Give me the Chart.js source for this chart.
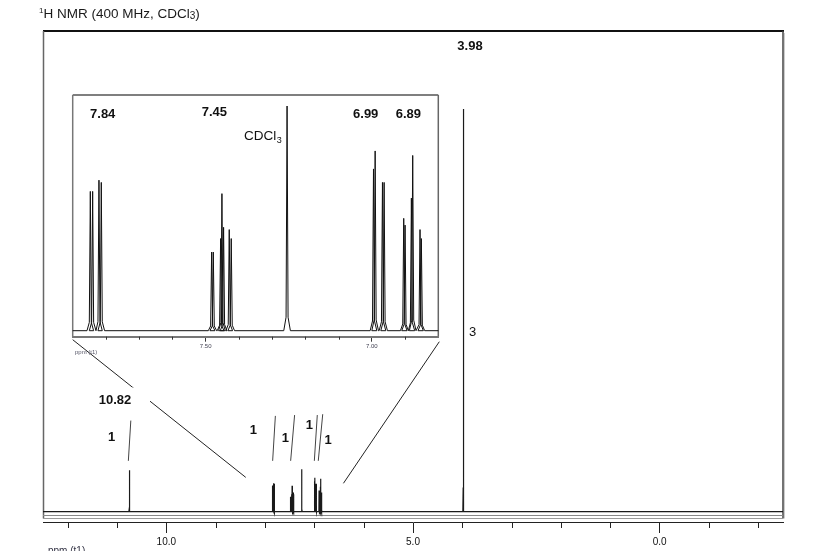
<!DOCTYPE html>
<html>
<head>
<meta charset="utf-8">
<title>1H NMR</title>
<script src="https://cdn.jsdelivr.net/npm/chart.js@4.4.1/dist/chart.umd.min.js"></script>
<style>
  body { margin: 0; background: #fff; }
  #wrap { position: relative; width: 836px; height: 551px; overflow: hidden; }
  #titulo { position: absolute; left: 39px; top: 6px; font: 13.5px Arial, "Liberation Sans", sans-serif; line-height: 16px; color: #1a1a1a; white-space: nowrap; }
  #titulo sup { font-size: 8px; vertical-align: 5px; line-height: 0; }
  #titulo sub { font-size: 10px; vertical-align: -1px; line-height: 0; }
  #mainChart { position: absolute; left: 0; top: 0; }
  #insetChart { position: absolute; left: 50px; top: 85px; }
</style>
</head>
<body>
<div id="wrap">
  <canvas id="mainChart" width="836" height="551"></canvas>
  <canvas id="insetChart" width="400" height="275"></canvas>
  <div id="titulo"><sup>1</sup>H NMR (400 MHz, CDCl<sub>3</sub>)</div>
</div>
<script>
Chart.defaults.font.family = "Arial, 'Liberation Sans', sans-serif";
Chart.defaults.color = '#111';

// Líneas del espectro: posición (ppm) e intensidad relativa (CDCl3 = 100)
const picosPpm = [10.75, 7.847, 7.840, 7.821, 7.814, 7.482, 7.477, 7.455, 7.451, 7.446, 7.429, 7.423,
                  7.255, 6.995, 6.990, 6.968, 6.963, 6.904, 6.900, 6.881, 6.877, 6.855, 6.851, 3.98];
const picosAltura = [98, 62, 62, 67, 66, 35, 35, 41, 61, 46, 45, 41,
                     100, 72, 80, 66, 66, 50, 47, 59, 78, 45, 41, 950];

// Curvas de integración (ppm inicio / fin, altura inicio / fin)
const integralDesde = [10.77, 7.845, 7.48, 7.00, 6.92];
const integralHasta = [10.72, 7.79, 7.40, 6.94, 6.83];
const integralBase = [120, 120, 120, 120, 120];
const integralTope = [215, 226, 228, 228, 230];

// Ejes
const ejePrincipalTicks = [12, 11, 10, 9, 8, 7, 6, 5, 4, 3, 2, 1, 0, -1, -2];
const ejePrincipalEtiquetas = [10, 5, 0];
const ejeZoomTicks = [7.8, 7.7, 7.6, 7.5, 7.4, 7.3, 7.2, 7.1, 7.0, 6.9];
const ejeZoomEtiquetas = [7.5, 7.0];

// forma de cada línea: punta estrecha y pie algo más ancho
const PUNTA = 0.003;
const PIE = 0.010;
const OFFSET_ZOOM = { x: 50, y: 85 };

function trazaEspectro() {
  const pts = [{ x: 13, y: 0 }];
  picosPpm.forEach((p, i) => {
    const h = picosAltura[i];
    pts.push({ x: p + PIE, y: 0 }, { x: p + PUNTA, y: h * 0.06 }, { x: p, y: h },
             { x: p - PUNTA, y: h * 0.06 }, { x: p - PIE, y: 0 });
  });
  pts.push({ x: -3, y: 0 });
  return pts;
}

function linea(ctx, x1, y1, x2, y2, color, ancho) {
  ctx.beginPath();
  ctx.strokeStyle = color;
  ctx.lineWidth = ancho;
  ctx.moveTo(x1, y1);
  ctx.lineTo(x2, y2);
  ctx.stroke();
}

function texto(ctx, t, x, y, font, align) {
  ctx.font = font;
  ctx.fillStyle = '#111';
  ctx.textAlign = align || 'center';
  ctx.textBaseline = 'middle';
  ctx.fillText(t, x, y);
}

// ---------- Gráfico ampliado (7.9 - 6.8 ppm) ----------
const marcoZoom = {
  id: 'marcoZoom',
  beforeDraw(chart) {
    const { ctx, chartArea: a } = chart;
    ctx.save();
    ctx.fillStyle = '#fff';
    ctx.fillRect(a.left, a.top, a.right - a.left, a.bottom - a.top);
    linea(ctx, a.left, a.top, a.right, a.top, '#555', 1.5);
    linea(ctx, a.left, a.top, a.left, a.bottom, '#777', 1.5);
    linea(ctx, a.right, a.top, a.right, a.bottom, '#666', 1.5);
    ctx.restore();
  },
  afterDraw(chart) {
    const { ctx, chartArea: a, scales } = chart;
    ctx.save();
    ejeZoomTicks.forEach(v => {
      if (ejeZoomEtiquetas.includes(v)) return;
      const px = Math.round(scales.x.getPixelForValue(v)) + 0.5;
      linea(ctx, px, a.bottom, px, a.bottom + 3, '#333', 1);
    });
    const b = 'bold 13px Arial, "Liberation Sans", sans-serif';
    texto(ctx, '7.84', 52.7, 29, b);
    texto(ctx, '7.45', 164.3, 27, b);
    texto(ctx, '6.99', 315.7, 29, b);
    texto(ctx, '6.89', 358.3, 29, b);
    ctx.font = '13.5px Arial, "Liberation Sans", sans-serif';
    ctx.textAlign = 'left';
    ctx.textBaseline = 'alphabetic';
    ctx.fillText('CDCl', 194, 55);
    const w = ctx.measureText('CDCl').width;
    ctx.font = '9px Arial, "Liberation Sans", sans-serif';
    ctx.fillText('3', 194 + w + 0.5, 57.5);
    ctx.fillStyle = '#556';
    ctx.font = '6px Arial, "Liberation Sans", sans-serif';
    ctx.fillText('ppm (t1)', 25, 269);
    ctx.restore();
  }
};

const zoom = new Chart(document.getElementById('insetChart'), {
  type: 'line',
  data: {
    datasets: [{
      data: trazaEspectro(),
      borderColor: '#111', borderWidth: 1, pointRadius: 0, tension: 0
    }]
  },
  options: {
    responsive: false, animation: false, events: [],
    layout: { padding: { left: 22.7, right: 11.7, top: 10, bottom: 0 } },
    plugins: { legend: { display: false }, tooltip: { enabled: false } },
    scales: {
      x: {
        type: 'linear', reverse: true, min: 6.8, max: 7.9, bounds: 'data',
        afterBuildTicks: s => { s.ticks = ejeZoomTicks.map(v => ({ value: v })); },
        afterFit: s => { s.height = 23.3; },
        border: { display: true, color: '#777', width: 2 },
        grid: {
          drawOnChartArea: false, tickLength: 5, tickWidth: 1,
          tickColor: c => (c.tick && ejeZoomEtiquetas.includes(c.tick.value)) ? '#333' : 'rgba(0,0,0,0)'
        },
        ticks: {
          autoSkip: false, maxRotation: 0, padding: 1, color: '#445', font: { size: 6 },
          callback: v => ejeZoomEtiquetas.includes(v) ? v.toFixed(2) : ''
        }
      },
      y: { display: false, min: -2.67, max: 104.9 }
    }
  },
  plugins: [marcoZoom]
});

// ---------- Gráfico principal ----------
const integrales = integralDesde.map((d, i) => ({
  data: [{ x: d, y: integralBase[i] }, { x: integralHasta[i], y: integralTope[i] }],
  borderColor: '#444', borderWidth: 1, pointRadius: 0, tension: 0
}));

const marcoPrincipal = {
  id: 'marcoPrincipal',
  beforeDatasetsDraw(chart) {
    const { ctx, chartArea: a } = chart;
    ctx.save();
    ctx.fillStyle = '#111';
    ctx.fillRect(a.left, a.top - 1, a.right - a.left + 1, 2);
    linea(ctx, a.left + 0.5, a.top, a.left + 0.5, 518.5, '#666', 1.5);
    linea(ctx, a.right, a.top, a.right, 518.5, '#444', 1.5);
    linea(ctx, a.right + 1.5, a.top + 2, a.right + 1.5, 518.5, '#ccc', 1);
    linea(ctx, a.left, 515.5, a.right, 515.5, '#888', 1);
    linea(ctx, a.left, 518.5, a.right, 518.5, '#999', 1);
    ctx.restore();
  },
  afterDraw(chart) {
    const { ctx, chartArea: a, scales } = chart;
    const sx = scales.x, sy = scales.y;
    ctx.save();
    ejePrincipalTicks.forEach(v => {
      if (ejePrincipalEtiquetas.includes(v)) return;
      const px = Math.round(sx.getPixelForValue(v)) + 0.5;
      linea(ctx, px, a.bottom, px, a.bottom + 6, '#222', 1);
    });

    // líneas que unen la ampliación con la región aromática
    const za = zoom.chartArea;
    linea(ctx, OFFSET_ZOOM.x + za.left, OFFSET_ZOOM.y + za.bottom + 3,
          sx.getPixelForValue(8.39), sy.getPixelForValue(81), '#222', 1);
    linea(ctx, OFFSET_ZOOM.x + za.right + 1, OFFSET_ZOOM.y + za.bottom + 5,
          sx.getPixelForValue(6.41), sy.getPixelForValue(67), '#222', 1);

    ctx.fillStyle = '#fff';
    ctx.fillRect(95, 387.5, 55, 24);

    const b = 'bold 13px Arial, "Liberation Sans", sans-serif';
    texto(ctx, '10.82', 115, 400.5, b);
    texto(ctx, '3.98', 470, 46, b);
    texto(ctx, '1', 111.7, 437.5, b);
    texto(ctx, '1', 253.3, 430.7, b);
    texto(ctx, '1', 285.3, 438.3, b);
    texto(ctx, '1', 309.3, 425, b);
    texto(ctx, '1', 328, 440, b);
    texto(ctx, '3', 472.7, 332, '13px Arial, "Liberation Sans", sans-serif');

    ctx.fillStyle = '#334';
    ctx.font = '10px Arial, "Liberation Sans", sans-serif';
    ctx.textAlign = 'left';
    ctx.textBaseline = 'top';
    ctx.fillText('ppm (t1)', 48, 546);
    ctx.restore();
  }
};

new Chart(document.getElementById('mainChart'), {
  type: 'line',
  data: {
    datasets: [{
      data: trazaEspectro(),
      borderColor: '#1a1a1a', borderWidth: 1.2, pointRadius: 0, tension: 0
    }, ...integrales]
  },
  options: {
    responsive: false, animation: false, events: [],
    layout: { padding: { left: 43, right: 53, top: 31, bottom: 0 } },
    plugins: { legend: { display: false }, tooltip: { enabled: false } },
    scales: {
      x: {
        type: 'linear', reverse: true, min: -2.5, max: 12.5, bounds: 'data',
        afterBuildTicks: s => { s.ticks = ejePrincipalTicks.map(v => ({ value: v })); },
        afterFit: s => { s.height = 29; },
        border: { display: true, color: '#222', width: 1 },
        grid: {
          drawOnChartArea: false, tickLength: 11, tickWidth: 1,
          tickColor: c => (c.tick && ejePrincipalEtiquetas.includes(c.tick.value)) ? '#222' : 'rgba(0,0,0,0)'
        },
        ticks: {
          autoSkip: false, maxRotation: 0, padding: 3, color: '#111', font: { size: 10 },
          callback: v => ejePrincipalEtiquetas.includes(v) ? v.toFixed(1) : ''
        }
      },
      y: { display: false, min: -24.3, max: 1134 }
    }
  },
  plugins: [marcoPrincipal]
});
</script>
</body>
</html>
